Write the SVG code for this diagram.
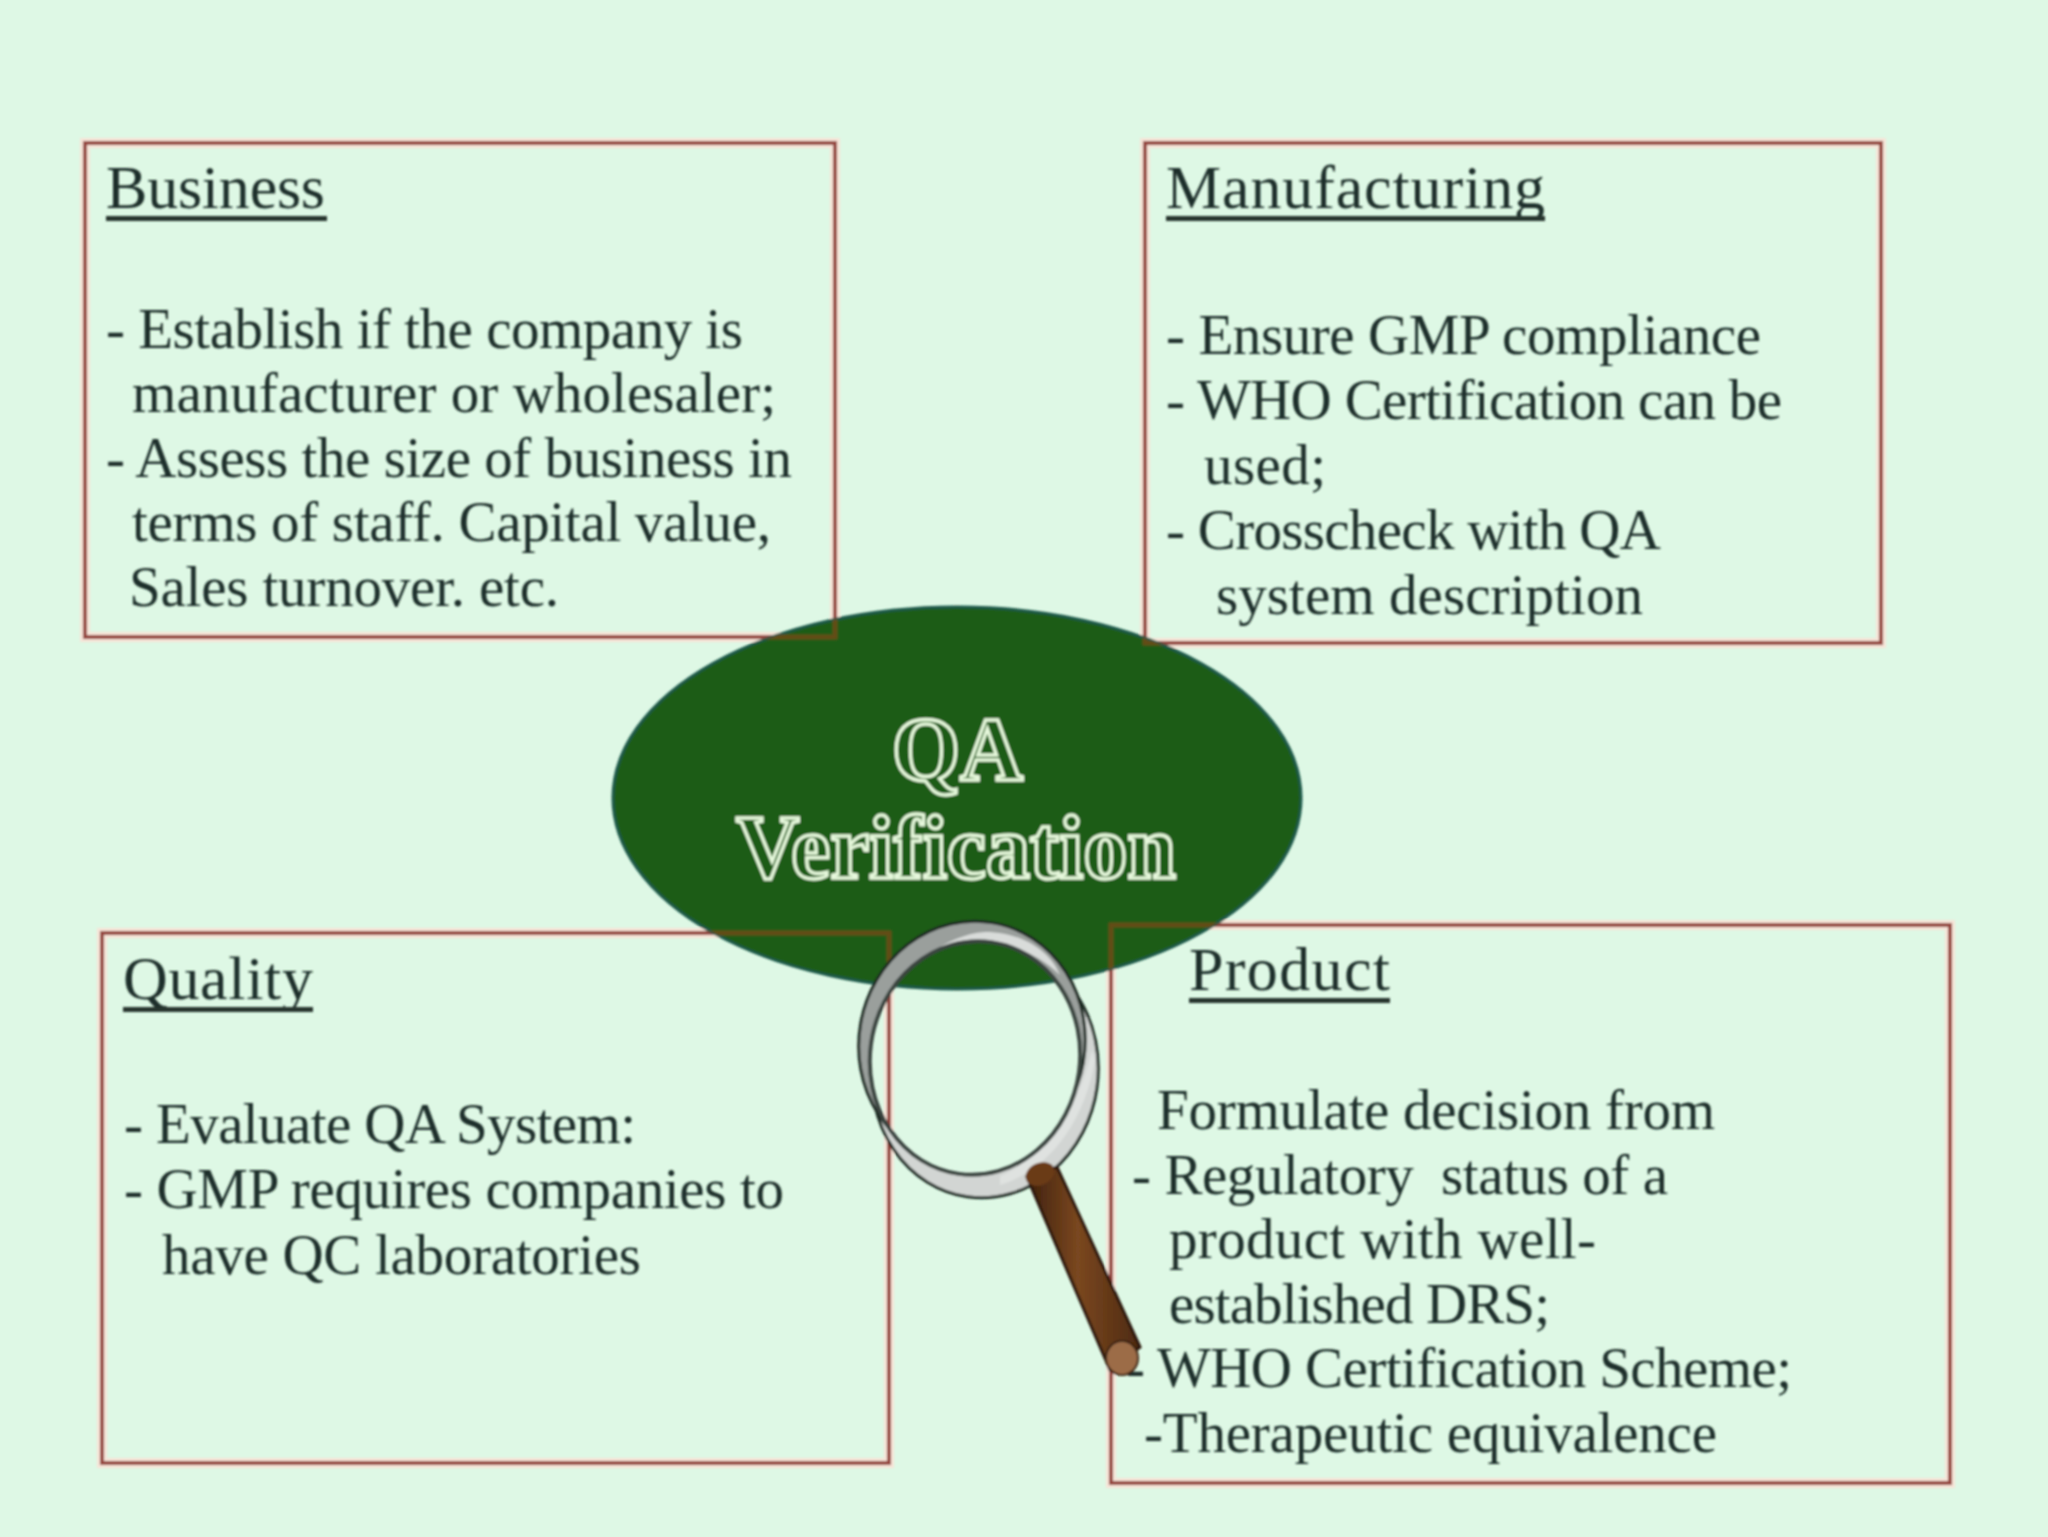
<svg xmlns="http://www.w3.org/2000/svg" width="2048" height="1537" viewBox="0 0 2048 1537">
<style>
.halo{fill:none;stroke:#f7e4d8;stroke-width:10}
.box{fill:none;stroke:#964640;stroke-width:4}
.thru{fill:none;stroke:#7c4a14;stroke-width:5;opacity:.75}
.ul{fill:#26352f}
text{font-family:"Liberation Serif","Times New Roman",serif;fill:#1f2f2a;font-size:57px;white-space:pre}
.h{font-size:62px}
.qa{font-size:92px;font-weight:bold;fill:#1c5c14;stroke:#e6f8dc;stroke-width:3.5}
.ring{fill:#d2d5d3;stroke:#1d2a24;stroke-width:3}
</style>
<defs>
<filter id="soft" x="-2%" y="-2%" width="104%" height="104%"><feGaussianBlur stdDeviation="0.9"/></filter>
<clipPath id="ell"><ellipse cx="957" cy="798" rx="344" ry="191"/></clipPath>
<mask id="lens" maskUnits="userSpaceOnUse" x="800" y="880" width="360" height="360"><rect x="800" y="880" width="360" height="360" fill="#fff"/><ellipse cx="975" cy="1058" rx="105" ry="117" transform="rotate(8 975 1058)" fill="#000"/></mask>
<linearGradient id="wood" x1="0" y1="0" x2="1" y2="0"><stop offset="0" stop-color="#3f210c"/><stop offset=".45" stop-color="#7a4720"/><stop offset="1" stop-color="#4e2a10"/></linearGradient>
</defs>
<rect id="background" width="2048" height="1537" fill="#def8e5"/>
<g filter="url(#soft)">
<g id="business">
<rect class="halo" x="85" y="143" width="750" height="494"/>
<rect class="box" x="85" y="143" width="750" height="494"/>
<text class="h" x="106" y="208" textLength="219">Business</text>
<rect class="ul" x="106" y="216" width="221" height="5"/>
<text x="106" y="348" textLength="637">- Establish if the company is</text>
<text x="132" y="412" textLength="644">manufacturer or wholesaler;</text>
<text x="106" y="477" textLength="686">- Assess the size of business in</text>
<text x="132" y="541" textLength="639">terms of staff. Capital value,</text>
<text x="129" y="606" textLength="430">Sales turnover. etc.</text>
</g>
<g id="manufacturing">
<rect class="halo" x="1145" y="143" width="736" height="500"/>
<rect class="box" x="1145" y="143" width="736" height="500"/>
<text class="h" x="1166" y="208" textLength="379">Manufacturing</text>
<rect class="ul" x="1166" y="216" width="379" height="5"/>
<text x="1166" y="354" textLength="595">- Ensure GMP compliance</text>
<text x="1166" y="419" textLength="616">- WHO Certification can be</text>
<text x="1204" y="484" textLength="122">used;</text>
<text x="1166" y="549" textLength="495">- Crosscheck with QA</text>
<text x="1216" y="614" textLength="427">system description</text>
</g>
<g id="quality">
<rect class="halo" x="102" y="933" width="787" height="530"/>
<rect class="box" x="102" y="933" width="787" height="530"/>
<text class="h" x="123" y="999" textLength="190">Quality</text>
<rect class="ul" x="123" y="1007" width="190" height="5"/>
<text x="124" y="1143" textLength="512">- Evaluate QA System:</text>
<text x="124" y="1208" textLength="660">- GMP requires companies to</text>
<text x="162" y="1274" textLength="479">have QC laboratories</text>
</g>
<g id="product">
<rect class="halo" x="1111" y="925" width="839" height="558"/>
<rect class="box" x="1111" y="925" width="839" height="558"/>
<text class="h" x="1189" y="990" textLength="201">Product</text>
<rect class="ul" x="1189" y="998" width="201" height="5"/>
<text x="1157" y="1129" textLength="558">Formulate decision from</text>
<text x="1132" y="1194" textLength="536">- Regulatory  status of a</text>
<text x="1169" y="1258" textLength="427">product with well-</text>
<text x="1169" y="1323" textLength="381">established DRS;</text>
<text x="1126" y="1387" textLength="666">- WHO Certification Scheme;</text>
<text x="1144" y="1452" textLength="573">-Therapeutic equivalence</text>
</g>
<g id="qa-verification">
<ellipse cx="957" cy="798" rx="344" ry="191" fill="#1c5c14" stroke="#1f5848" stroke-width="3"/>
<g clip-path="url(#ell)">
<path class="thru" d="M85 637H835V143"/>
<path class="thru" d="M1145 400V643H1500"/>
<path class="thru" d="M500 933H889V1100"/>
<path class="thru" d="M1111 1100V925H1500"/>
</g>
<text class="qa" x="892" y="780" textLength="131" lengthAdjust="spacingAndGlyphs">QA</text>
<text class="qa" x="736" y="878" textLength="440" lengthAdjust="spacingAndGlyphs">Verification</text>
</g>
<g id="magnifier">
<g mask="url(#lens)">
<ellipse class="ring" cx="985" cy="1072" rx="113" ry="126" transform="rotate(8 985 1072)"/>
<ellipse class="ring" cx="972" cy="1043" rx="113" ry="122" transform="rotate(10 972 1043)" style="fill:#9a9f9c"/>
<path d="M890 1000C910 965 945 935 985 932C1020 932 1050 950 1060 975C1030 945 985 935 950 950C920 965 895 995 885 1030Z" fill="#d9dcda"/>
<path d="M1000 1185C1050 1170 1085 1120 1095 1060L1092 1050C1075 1120 1040 1160 1000 1176Z" fill="#dfe2e0"/>
</g>
<ellipse cx="975" cy="1058" rx="105" ry="117" transform="rotate(8 975 1058)" fill="none" stroke="#3a4541" stroke-width="4"/>
<path d="M1027 1177L1057 1167L1140 1347L1110 1370Z" fill="url(#wood)" stroke="#2a190b" stroke-width="3"/>
<ellipse cx="1040" cy="1174" rx="15" ry="11" fill="#6a3a18" transform="rotate(-25 1040 1174)"/>
<ellipse cx="1122" cy="1358" rx="16" ry="17" fill="#9c6c47" stroke="#3a2412" stroke-width="2"/>
</g>
</g>
</svg>
